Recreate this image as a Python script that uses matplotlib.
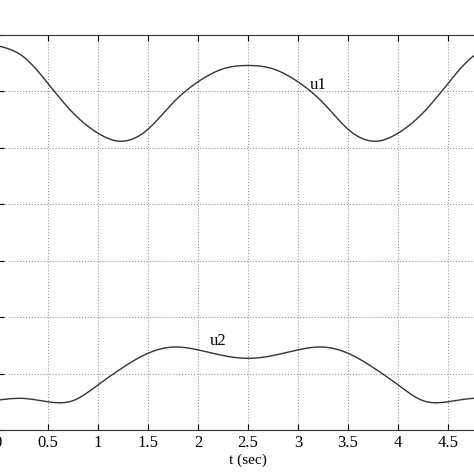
import matplotlib.pyplot as plt
import numpy as np

plt.rcParams["font.family"] = "Liberation Serif"

t = [0, 0.25, 0.5, 0.75, 1.0, 1.2, 1.5, 1.75, 2.0, 2.25, 2.5,
     2.75, 3.0, 3.25, 3.5, 3.8, 4.0, 4.25, 4.5, 4.75, 5.0]
u1 = [6.81, 6.62, 6.14, 5.62, 5.26, 5.12, 5.33, 5.80, 6.17, 6.40, 6.46,
      6.40, 6.17, 5.80, 5.33, 5.12, 5.26, 5.62, 6.14, 6.62, 6.81]
u2 = [0.53, 0.56, 0.50, 0.52, 0.80, 1.05, 1.36, 1.47, 1.42, 1.32, 1.27,
      1.32, 1.42, 1.47, 1.36, 1.05, 0.80, 0.52, 0.50, 0.56, 0.53]


def spline(x, y, n=600):
    # natural cubic spline through the read points
    x = np.asarray(x, float)
    y = np.asarray(y, float)
    h = np.diff(x)
    m = len(x)
    A = np.zeros((m, m))
    b = np.zeros(m)
    A[0, 0] = A[-1, -1] = 1
    for i in range(1, m - 1):
        A[i, i - 1] = h[i - 1]
        A[i, i] = 2 * (h[i - 1] + h[i])
        A[i, i + 1] = h[i]
        b[i] = 6 * ((y[i + 1] - y[i]) / h[i] - (y[i] - y[i - 1]) / h[i - 1])
    M = np.linalg.solve(A, b)
    xs = np.linspace(x[0], x[-1], n)
    idx = np.clip(np.searchsorted(x, xs) - 1, 0, m - 2)
    x0, x1 = x[idx], x[idx + 1]
    hh = x1 - x0
    a = (x1 - xs) / hh
    c = (xs - x0) / hh
    ys = (a * y[idx] + c * y[idx + 1]
          + ((a ** 3 - a) * M[idx] + (c ** 3 - c) * M[idx + 1]) * hh ** 2 / 6)
    return xs, ys


fig = plt.figure(figsize=(4.74, 4.74), dpi=100)
ax = fig.add_axes([-2 / 474, 44 / 474, 500 / 474, 395 / 474])

for y in (u1, u2):
    xs, ys = spline(t, y)
    ax.plot(xs, ys, color="#333", linewidth=1.0)

ax.set_xlim(0, 5)
ax.set_ylim(0, 7)
ax.set_xticks([0, 0.5, 1, 1.5, 2, 2.5, 3, 3.5, 4, 4.5, 5])
ax.set_xticklabels(["0", "0.5", "1", "1.5", "2", "2.5", "3", "3.5", "4", "4.5", "5"])
ax.set_yticks(range(8))
ax.set_yticklabels([])
ax.tick_params(direction="in", top=True, right=True, labelsize=12, length=4)
ax.grid(True, linestyle=":", color="#999", linewidth=0.8)
for s in ax.spines.values():
    s.set_color("#333")
ax.set_xlabel("t (sec)", fontsize=11, labelpad=2)

ax.text(3.12, 6.05, "u1", fontsize=12)
ax.text(2.12, 1.5, "u2", fontsize=12)

fig.savefig("out.png", dpi=100)
